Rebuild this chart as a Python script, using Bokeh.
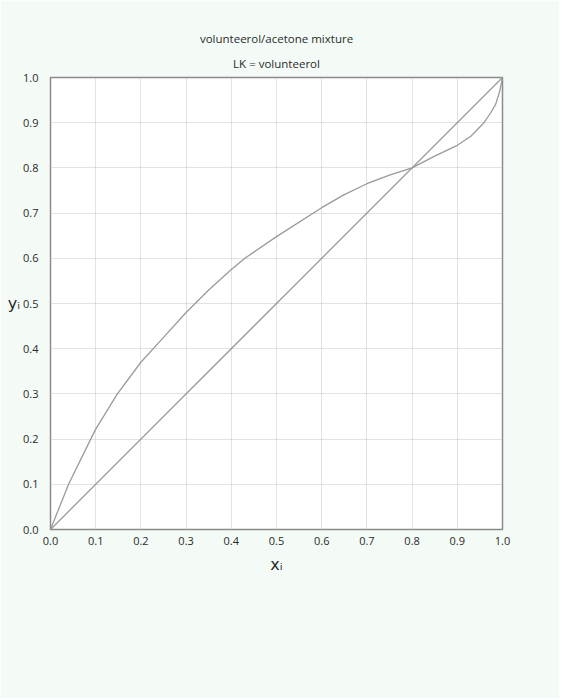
from bokeh.plotting import figure
from bokeh.models import Range1d, FixedTicker, NumeralTickFormatter, Title
from bokeh.embed import file_html
from bokeh.resources import INLINE

# values
x_liquid = [0.0, 0.04, 0.089, 0.1, 0.148, 0.2, 0.25, 0.3, 0.35, 0.4, 0.43, 0.5,
            0.6, 0.65, 0.7, 0.75, 0.8, 0.85, 0.9, 0.93, 0.959, 0.974, 0.985, 0.994, 1.0]
y_vapour = [0.0, 0.1, 0.2, 0.222, 0.3, 0.37, 0.425, 0.48, 0.53, 0.575, 0.6, 0.648,
            0.712, 0.741, 0.765, 0.784, 0.8, 0.826, 0.85, 0.87, 0.9, 0.922, 0.941, 0.97, 1.0]
diag_x = [0.0, 1.0]
diag_y = [0.0, 1.0]
ticks = [0.0, 0.1, 0.2, 0.3, 0.4, 0.5, 0.6, 0.7, 0.8, 0.9, 1.0]

FONT = "Open Sans"
TEXT = "#2a2a2a"
LINE = "#9a9a9a"
BG = "#f4fbf6"

p = figure(frame_width=452, frame_height=452,
           x_range=Range1d(0, 1), y_range=Range1d(0, 1),
           min_border_left=50, min_border_right=57,
           min_border_top=77, min_border_bottom=169,
           output_backend="svg", toolbar_location=None, tools="")

p.title.text = "volunteerol/acetone mixture"
p.title.align = "center"
p.title.text_font = FONT
p.title.text_font_size = "11.5px"
p.title.text_font_style = "normal"
p.title.text_color = TEXT
p.title.standoff = 3
p.add_layout(Title(text="LK = volunteerol", align="center", standoff=13,
                   text_font=FONT, text_font_size="11.5px",
                   text_font_style="normal", text_color=TEXT), "above")

p.background_fill_color = "white"
p.border_fill_color = BG
p.outline_line_color = "#8a8a8a"
p.outline_line_width = 1.5

for ax in (p.xaxis, p.yaxis):
    ax.ticker = FixedTicker(ticks=ticks)
    ax.formatter = NumeralTickFormatter(format="0.0")
    ax.major_tick_line_color = None
    ax.minor_tick_line_color = None
    ax.axis_line_color = None
    ax.major_label_text_font = FONT
    ax.major_label_text_font_size = "11px"
    ax.major_label_text_color = TEXT
    ax.axis_label_text_font = "DejaVu Sans"
    ax.axis_label_text_font_size = "16px"
    ax.axis_label_text_font_style = "normal"
    ax.axis_label_text_color = TEXT
p.xaxis.major_label_standoff = 1
p.yaxis.major_label_standoff = 6

# axis labels: x and y with subscript i
p.xaxis.axis_label = "x\u1d62"
p.xaxis.axis_label_standoff = 7
p.yaxis.axis_label = "y\u1d62"
p.yaxis.axis_label_standoff = 0
if hasattr(p.yaxis[0], "axis_label_orientation"):
    p.yaxis.axis_label_orientation = "horizontal"

for g in (p.xgrid, p.ygrid):
    g.ticker = FixedTicker(ticks=ticks)
    g.grid_line_color = "#c4c4c4"
    g.grid_line_dash = "1 1"
    g.grid_line_width = 1

p.line(diag_x, diag_y, line_color=LINE, line_width=1.3)
p.line(x_liquid, y_vapour, line_color=LINE, line_width=1.3)

open("out.html", "w").write(file_html(p, INLINE))
